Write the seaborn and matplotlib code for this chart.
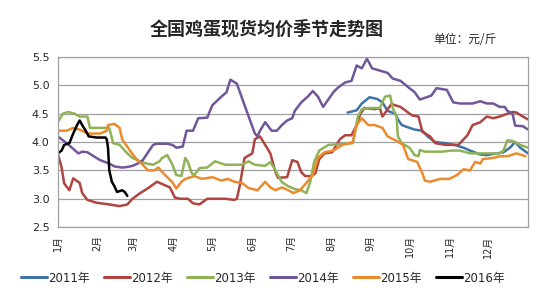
import pandas as pd
import matplotlib
matplotlib.use('Agg')
import matplotlib.pyplot as plt
import seaborn as sns


# day of year / price (yuan per jin)
d11 = [225, 232, 236, 242, 248, 252, 256, 262, 264, 267, 273, 277, 283, 287, 293, 301, 308, 315, 320, 328,
       333, 341, 346, 351, 355, 359, 365]
v11 = [4.52, 4.56, 4.68, 4.79, 4.76, 4.7, 4.55, 4.5, 4.4, 4.3, 4.25, 4.22, 4.2, 4.1, 4.0, 3.98, 3.95, 3.9, 3.85, 3.78,
       3.77, 3.8, 3.82, 3.9, 4.0, 3.9, 3.8]

d12 = [0, 3, 5, 9, 12, 17, 19, 23, 30, 40, 48, 54, 58, 64, 69, 74, 77, 82, 87, 91,
       95, 101, 105, 110, 116, 120, 130, 137, 139, 141, 145, 151, 153, 157, 161, 165, 169, 171, 178, 182,
       186, 189, 192, 197, 200, 203, 207, 213, 219, 223, 228, 231, 235, 238, 246, 250, 252, 259, 266, 275,
       280, 283, 289, 293, 301, 311, 318, 322, 328, 333, 338, 343, 349, 353, 356, 361, 365]
v12 = [3.8, 3.55, 3.27, 3.15, 3.36, 3.28, 3.1, 2.98, 2.93, 2.9, 2.87, 2.9, 3.0, 3.1, 3.17, 3.25, 3.3, 3.25, 3.2, 3.02,
       3.0, 3.0, 2.92, 2.9, 3.0, 3.0, 3.0, 2.98, 3.0, 3.2, 3.72, 3.8, 4.05, 4.1, 3.95, 3.8, 3.47, 3.37, 3.38, 3.68,
       3.65, 3.47, 3.4, 3.4, 3.45, 3.7, 3.8, 3.82, 4.05, 4.12, 4.12, 4.25, 4.5, 4.6, 4.58, 4.6, 4.45, 4.67, 4.62, 4.47,
       4.45, 4.18, 4.1, 3.98, 3.95, 3.95, 4.12, 4.3, 4.35, 4.45, 4.42, 4.45, 4.5, 4.53, 4.52, 4.45, 4.4]

d13 = [0, 4, 8, 13, 17, 23, 25, 33, 40, 43, 48, 54, 58, 64, 69, 74, 79, 81, 85, 89,
       92, 96, 99, 101, 104, 106, 110, 116, 122, 126, 130, 143, 148, 153, 161, 165, 169, 174, 179, 184,
       189, 193, 196, 199, 203, 210, 225, 229, 233, 236, 242, 250, 254, 258, 260, 263, 264, 267, 273, 277,
       280, 281, 285, 298, 306, 312, 320, 343, 346, 349, 353, 359, 365]
v13 = [4.35, 4.5, 4.53, 4.5, 4.45, 4.45, 4.25, 4.25, 4.25, 3.98, 3.95, 3.8, 3.72, 3.66, 3.62, 3.6, 3.66, 3.72, 3.77, 3.6,
       3.42, 3.4, 3.72, 3.65, 3.45, 3.42, 3.54, 3.55, 3.66, 3.63, 3.6, 3.6, 3.66, 3.6, 3.58, 3.65, 3.5, 3.29, 3.22, 3.17,
       3.15, 3.1, 3.3, 3.65, 3.85, 3.95, 3.97, 3.98, 4.45, 4.58, 4.6, 4.6, 4.8, 4.82, 4.6, 4.45, 4.1, 3.98, 3.9, 3.77,
       3.75, 3.86, 3.83, 3.83, 3.85, 3.85, 3.8, 3.8, 3.85, 4.03, 4.02, 3.95, 3.9]

d14 = [0, 7, 12, 16, 19, 23, 30, 33, 40, 44, 50, 54, 58, 62, 66, 71, 74, 77, 85, 89,
       92, 97, 100, 105, 109, 116, 120, 127, 131, 134, 139, 145, 149, 153, 155, 157, 161, 166, 170, 174,
       178, 182, 184, 189, 194, 198, 202, 206, 210, 214, 217, 223, 228, 232, 236, 240, 244, 250, 256, 260,
       266, 273, 277, 281, 285, 290, 294, 302, 307, 312, 322, 328, 333, 338, 343, 347, 349, 353, 355, 361,
       365]
v14 = [4.1, 3.98, 3.88, 3.8, 3.83, 3.82, 3.72, 3.68, 3.62, 3.57, 3.55, 3.56, 3.58, 3.62, 3.68, 3.85, 3.95, 3.97, 3.97, 3.95,
       3.9, 3.92, 4.2, 4.2, 4.42, 4.43, 4.65, 4.8, 4.88, 5.1, 5.03, 4.65, 4.4, 4.15, 4.1, 4.2, 4.35, 4.2, 4.2, 4.3,
       4.38, 4.42, 4.55, 4.7, 4.8, 4.9, 4.8, 4.62, 4.75, 4.88, 4.95, 5.05, 5.08, 5.35, 5.3, 5.47, 5.3, 5.26, 5.22, 5.12,
       5.08, 4.95, 4.88, 4.75, 4.78, 4.82, 4.95, 4.92, 4.7, 4.68, 4.68, 4.72, 4.68, 4.68, 4.62, 4.62, 4.55, 4.5, 4.29, 4.28,
       4.22]

d15 = [0, 7, 12, 17, 23, 33, 38, 39, 44, 48, 50, 56, 61, 66, 70, 75, 78, 82, 85, 89,
       92, 96, 99, 106, 112, 120, 127, 132, 137, 143, 148, 155, 161, 165, 169, 174, 179, 183, 188, 193,
       198, 202, 207, 214, 221, 229, 232, 236, 241, 246, 252, 256, 263, 268, 272, 279, 283, 285, 289, 297,
       304, 310, 315, 320, 324, 328, 330, 338, 343, 349, 356, 363]
v15 = [4.2, 4.2, 4.25, 4.22, 4.15, 4.15, 4.2, 4.3, 4.32, 4.25, 4.05, 3.85, 3.7, 3.6, 3.5, 3.5, 3.55, 3.45, 3.38, 3.29,
       3.18, 3.3, 3.35, 3.4, 3.35, 3.38, 3.32, 3.35, 3.3, 3.28, 3.19, 3.15, 3.3, 3.2, 3.15, 3.2, 3.15, 3.1, 3.15, 3.28,
       3.42, 3.72, 3.82, 3.85, 3.95, 4.0, 4.3, 4.42, 4.3, 4.3, 4.25, 4.1, 4.02, 3.95, 3.7, 3.65, 3.45, 3.32, 3.3, 3.35,
       3.35, 3.42, 3.52, 3.5, 3.65, 3.62, 3.7, 3.72, 3.75, 3.75, 3.8, 3.75]

d16 = [0, 3, 5, 9, 12, 15, 17, 19, 23, 24, 30, 37, 38, 39, 40, 42, 44, 46, 50, 52, 54]
v16 = [3.8, 3.85, 3.95, 3.98, 4.15, 4.3, 4.38, 4.3, 4.15, 4.1, 4.08, 4.08, 4.05, 3.9, 3.5, 3.3, 3.22, 3.12, 3.15, 3.12, 3.05]

years = ['2011年', '2012年', '2013年', '2014年', '2015年', '2016年']
colors = ['#3f72a8', '#b04440', '#8fb356', '#70569a', '#ec8a2e', '#000000']

month_days = [0, 31, 59, 90, 120, 151, 181, 212, 243, 273, 304, 334]
month_labels = ['1月', '2月', '3月', '4月', '5月', '6月', '7月', '8月', '9月', '10月', '11月', '12月']
y_ticks = [2.5, 3.0, 3.5, 4.0, 4.5, 5.0, 5.5]

# long table for seaborn
frames = []
for yr, d, v in zip(years, [d11, d12, d13, d14, d15, d16], [v11, v12, v13, v14, v15, v16]):
    frames.append(pd.DataFrame({'day': d, 'price': v, 'year': yr}))
df = pd.concat(frames, ignore_index=True)

sns.set_theme(style='white')
plt.rcParams['font.family'] = ['DejaVu Sans', 'Noto Sans CJK SC']

fig = plt.figure(figsize=(5.5, 3), dpi=100)
ax = fig.add_axes([0.105, 0.243, 0.855, 0.567])

sns.lineplot(data=df, x='day', y='price', hue='year', palette=colors, hue_order=years,
             estimator=None, linewidth=1.8, ax=ax)

ax.set_xlim(0, 365)
ax.set_ylim(2.5, 5.5)
ax.set_yticks(y_ticks)
ax.set_yticklabels([f'{t:.1f}' for t in y_ticks], fontsize=8)
ax.set_xticks(month_days)
ax.set_xticklabels(month_labels, rotation=90, fontsize=7)
ax.tick_params(axis='both', direction='out', length=4, width=0.8, pad=2, color='#909090')
ax.yaxis.grid(True, color='#a0a0a0', linewidth=0.9)
ax.set_axisbelow(True)
for s in ax.spines.values():
    s.set_color('#a0a0a0')
    s.set_linewidth(0.9)
ax.set_xlabel('')
ax.set_ylabel('')

sns.move_legend(ax, 'center', bbox_to_anchor=(0.478, 0.073), bbox_transform=fig.transFigure,
                ncol=6, frameon=False, title=None, fontsize=8.5, handlelength=2.2,
                handletextpad=0.1, columnspacing=1.2)
for line in ax.get_legend().get_lines():
    line.set_linewidth(2.2)

fig.text(0.485, 0.903, '全国鸡蛋现货均价季节走势图', ha='center', va='center',
         fontsize=13, fontweight='bold', family=['Noto Sans CJK SC'])
fig.text(0.904, 0.867, '单位：元/斤', ha='right', va='center', fontsize=8.5,
         family=['Noto Sans CJK SC'])

fig.savefig('out.png', dpi=100)
